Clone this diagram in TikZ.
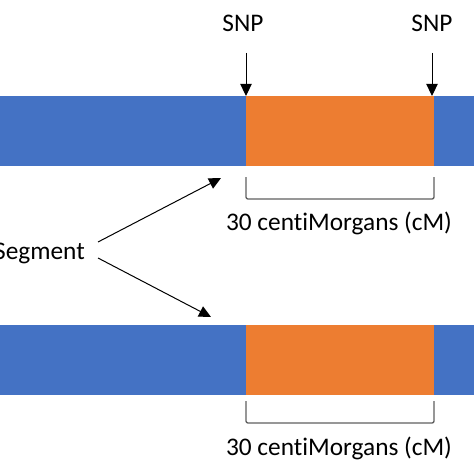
\documentclass[tikz,border=0pt]{standalone}
\usepackage{fontspec}
\setmainfont[Ligatures=NoCommon]{Carlito}
\usetikzlibrary{arrows.meta}
\definecolor{chromblue}{HTML}{4472C4}
\definecolor{segorange}{HTML}{ED7D31}
\definecolor{bracketgray}{HTML}{606060}
\tikzset{
  lbl/.style={font=\fontsize{19}{21}\selectfont, inner sep=0pt},
  pointer/.style={-{Triangle[width=8.5pt,length=9pt]}, line width=0.75pt, black},
  bracket/.style={line width=1pt, bracketgray, rounded corners=1.5pt}
}
\begin{document}
\begin{tikzpicture}[x=0.75pt, y=-0.75pt]
    \useasboundingbox (0,0) rectangle (474,474);
    \clip (0,0) rectangle (474,474);

    % Chromosome bars
    \fill[chromblue] (0,96) rectangle (474,166);
    \fill[segorange] (246,96) rectangle (434,166);
    \fill[chromblue] (0,325) rectangle (474,395);
    \fill[segorange] (246,325) rectangle (434,395);

    % SNP markers
    \node[lbl] (snpL) at (243,23) {SNP};
    \node[lbl] (snpR) at (432,23) {SNP};
    \coordinate (snpLtip) at (246,96);
    \coordinate (snpRtip) at (432,96);
    \draw[pointer] (246,53) -- (snpLtip);
    \draw[pointer] (432,53) -- (snpRtip);

    % Brackets and lengths
    \draw[bracket] (246,177) -- (246,199) -- (434,199) -- (434,177);
    \node[lbl] (lenTop) at (339,223) {30 centiMorgans (cM)};
    \draw[bracket] (246,401) -- (246,423) -- (434,423) -- (434,401);
    \node[lbl] (lenBot) at (339,448) {30 centiMorgans (cM)};

    % Segment pointers
    \node[lbl, anchor=east] (seg) at (85,253) {Segment};
    \coordinate (segTop) at (221,178);
    \coordinate (segBot) at (211,317);
    \draw[pointer] (98,242) -- (segTop);
    \draw[pointer] (98,258) -- (segBot);
\end{tikzpicture}
\end{document}
